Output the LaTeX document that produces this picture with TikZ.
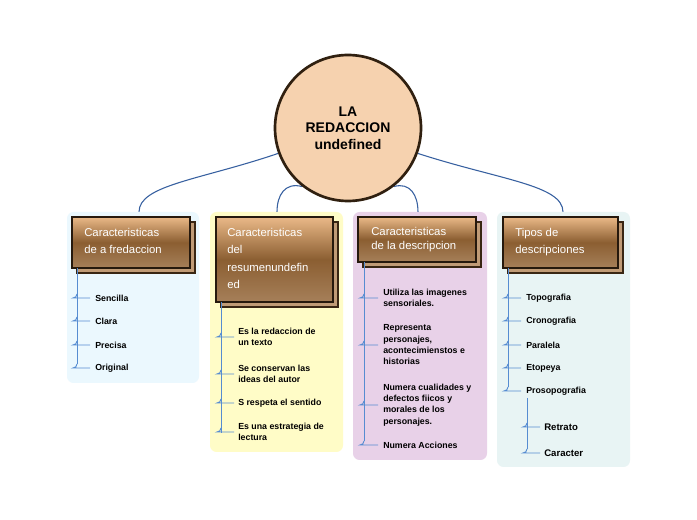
\documentclass[tikz,border=0pt]{standalone}
\usepackage{fontspec}
\setmainfont{Liberation Sans}
\usetikzlibrary{backgrounds}
\begin{document}
\begin{tikzpicture}[x=0.75pt,y=-0.75pt,
  panel/.style={rounded corners=5pt,draw=none},
  hdr/.style={draw=black!80!brown,line width=1.2pt,top color=brown!60!orange!55!white,bottom color=brown!75!black!80,middle color=brown!70!orange!60!black!90},
  hshadow/.style={draw=black!70!brown,line width=1pt,fill=brown!65!white!90!black},
  htxt/.style={anchor=north west,text=white,font=\fontsize{8.5}{13}\selectfont,align=left,inner sep=0pt},
  itm/.style={anchor=west,font=\fontsize{6.6}{8.5}\selectfont\bfseries,align=left,inner sep=0pt},
  ln/.style={draw=cyan!50!blue!70,line width=0.7pt},
  con/.style={draw=cyan!40!blue!80!black,line width=0.8pt}]
\useasboundingbox (0,0) rectangle (697,520);
% panels
\fill[panel,fill=cyan!8] (67,212) rectangle (199,383);
\fill[panel,fill=yellow!22] (210,212) rectangle (343,452);
\fill[panel,fill=violet!18!white] (353,212) rectangle (487,460);
\fill[panel,fill=teal!9] (497,212) rectangle (630,467);
\node[circle,draw=black!75!brown,line width=2pt,fill=brown!40!orange!35!white,minimum size=146*0.75pt,inner sep=0pt,align=center,font=\fontsize{10.5}{12.5}\selectfont\bfseries] (c) at (348,128) {LA\\REDACCION\\undefined};
\coordinate (p1) at (139,212);\coordinate (p2) at (277,212);
\coordinate (p3) at (418,212);\coordinate (p4) at (563,212);
\begin{scope}[on background layer]
\fill[white] (0,0) rectangle (697,520);
\draw[con] (c.200) .. controls (200,180) and (139,185) .. (p1);
\draw[con] (c.232) .. controls (285,182) and (277,195) .. (p2);
\draw[con] (c.-52) .. controls (410,182) and (418,195) .. (p3);
\draw[con] (c.-20) .. controls (500,180) and (563,185) .. (p4);
\end{scope}
% headers
\draw[hshadow] (77,222) rectangle (195,273);
\draw[hdr] (72,217) rectangle (190,268);
\node[htxt] (h1) at (84,228) {Caracteristicas\\de a fredaccion};
\draw[hshadow] (221,222) rectangle (338,307);
\draw[hdr] (216,217) rectangle (333,302);
\node[htxt] (h2) at (227,228) {Caracteristicas\\del\\resumenundefin\\ed};
\draw[hshadow] (363,222) rectangle (481,267);
\draw[hdr] (358,217) rectangle (476,262);
\node[htxt,font=\fontsize{8.5}{10.5}\selectfont] (h3) at (371,227) {Caracteristicas\\de la descripcion};
\draw[hshadow] (508,222) rectangle (623,273);
\draw[hdr] (503,217) rectangle (618,268);
\node[htxt] (h4) at (515,228) {Tipos de\\descripciones};
% panel 1
\draw[ln] (77,268) -- (77,364);
\foreach \t/\y [count=\i] in {Sencilla/298,Clara/321,Precisa/345,Original/368}{
 \draw[ln] (77,\y-4) arc(180:270:-4) -- (90,\y);
 \node[itm] (a\i) at (95,\y) {\t};}
% panel 2
\draw[ln] (221,302) -- (221,433);
\foreach \t/\y [count=\i] in {{Es la redaccion de\\un texto}/337,{Se conservan las\\ideas del autor}/374,{S respeta el sentido}/403,{Es una estrategia de\\lectura}/432}{
 \draw[ln] (221,\y-4) arc(180:270:-4) -- (234,\y);
 \node[itm] (b\i) at (238,\y) {\t};}
% panel 3
\draw[ln] (364,262) -- (364,441);
\foreach \t/\y [count=\i] in {{Utiliza las imagenes\\sensoriales.}/298,{Representa\\personajes,\\acontecimienstos e\\historias}/345,{Numera cualidades y\\defectos fiicos y\\morales de los\\personajes.}/405,{Numera Acciones}/445}{
 \draw[ln] (364,\y-4) arc(180:270:-4) -- (378,\y);
 \node[itm] (d\i) at (383,\y) {\t};}
% panel 4
\draw[ln] (508,268) -- (508,387);
\foreach \t/\y [count=\i] in {Topografia/298,Cronografia/321,Paralela/345,Etopeya/368,Prosopografia/391}{
 \draw[ln] (508,\y-4) arc(180:270:-4) -- (521,\y);
 \node[itm] (e\i) at (526,\y) {\t};}
\draw[ln] (527,398) -- (527,449);
\foreach \t/\y [count=\i] in {Retrato/427,Caracter/453}{
 \draw[ln] (527,\y-4) arc(180:270:-4) -- (540,\y);
 \node[itm,font=\fontsize{7.2}{9}\selectfont\bfseries] (f\i) at (544,\y) {\t};}
\end{tikzpicture}
\end{document}
